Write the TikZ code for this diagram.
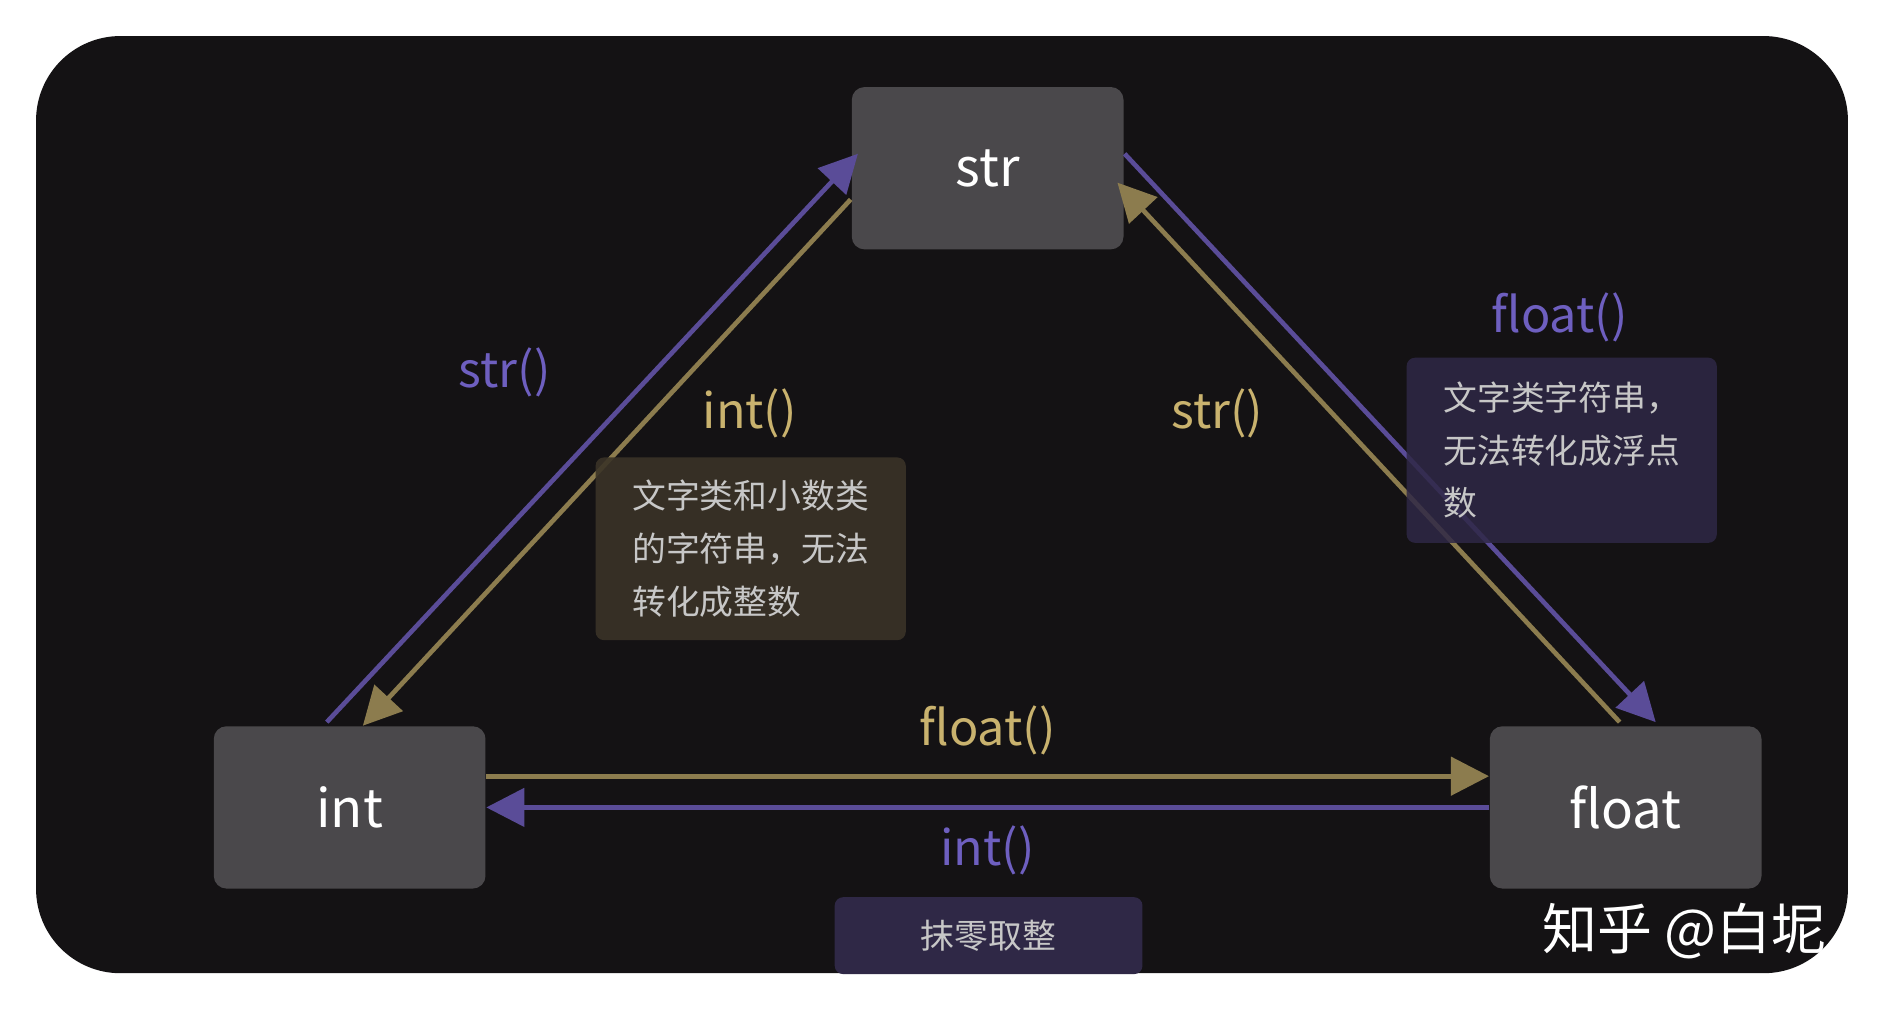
\documentclass[tikz,border=0pt]{standalone}
\usepackage{fontspec}
\setmainfont{Noto Sans CJK SC}
\usetikzlibrary{arrows.meta}
\definecolor{bg}{HTML}{141214}
\definecolor{boxc}{HTML}{4A484B}
\definecolor{pur}{HTML}{5A4C98}
\definecolor{purt}{HTML}{6E5FC0}
\definecolor{gold}{HTML}{8C7C4E}
\definecolor{goldt}{HTML}{C9B26E}
\definecolor{goldbox}{HTML}{3A3327}
\definecolor{purbox}{HTML}{2F2846}
\tikzset{
 typebox/.style={fill=boxc,rounded corners=3pt,minimum width=2.26cm,minimum height=1.35cm,text=white,font=\fontsize{12.5}{14}\selectfont},
 lab/.style={font=\fontsize{11.5}{13}\selectfont},
 note/.style={text=white!78!black,font=\fontsize{8}{12.5}\selectfont,align=left,inner sep=4pt,rounded corners=2pt},
 parr/.style={draw=pur,line width=1.1pt,-{Triangle[length=9pt,width=9pt]}},
 garr/.style={draw=gold,line width=1.1pt,-{Triangle[length=9pt,width=9pt]}}
}
\begin{document}
\begin{tikzpicture}[x=0.01cm,y=-0.01cm]
\useasboundingbox (0,0) rectangle (1568,840);
\fill[white] (0,0) rectangle (1568,840);
\fill[bg,rounded corners=20pt] (30,30) rectangle (1538,810);
\node[typebox] (str) at (822,140) {str};
\node[typebox] (int) at (291,672) {int};
\node[typebox] (float) at (1353,672) {float};
% diagonal left
\coordinate (a1) at (272,601); \coordinate (a2) at (714,128);
\draw[parr] (a1) -- (a2);
\coordinate (b1) at (708,166); \coordinate (b2) at (302,604);
\draw[garr] (b1) -- (b2);
% diagonal right
\coordinate (c1) at (936,128); \coordinate (c2) at (1378,601);
\draw[parr] (c1) -- (c2);
\coordinate (d1) at (1348,601); \coordinate (d2) at (930,152);
\draw[garr] (d1) -- (d2);
% horizontal
\draw[garr] (int.east |- 0,646) -- (float.west |- 0,646);
\draw[parr] (float.west |- 0,672) -- (int.east |- 0,672);
% labels
\node[lab,text=purt] (l1) at (420,310) {str()};
\node[lab,text=goldt] (l2) at (624,344) {int()};
\node[lab,text=goldt] (l3) at (1013,344) {str()};
\node[lab,text=purt] (l4) at (1298,264) {float()};
\node[lab,text=goldt] (l5) at (822,608) {float()};
\node[lab,text=purt] (l6) at (822,708) {int()};
\node[note,fill=goldbox,fill opacity=0.9,text opacity=1,minimum width=2.58cm,minimum height=1.52cm,anchor=north west] (n1) at (495,380) {文字类和小数类\\的字符串，无法\\转化成整数};
\node[note,fill=purbox,fill opacity=0.85,text opacity=1,minimum width=2.58cm,minimum height=1.54cm,anchor=north west] (n2) at (1170,297) {文字类字符串，\\无法转化成浮点\\数};
\node[note,fill=purbox,minimum width=2.56cm,minimum height=0.64cm,anchor=north west] (n3) at (694,746) {抹零取整};
\node[text=white,font=\fontsize{13}{15}\selectfont] (wm) at (1402,775) {知乎 @白坭};
\end{tikzpicture}
\end{document}
